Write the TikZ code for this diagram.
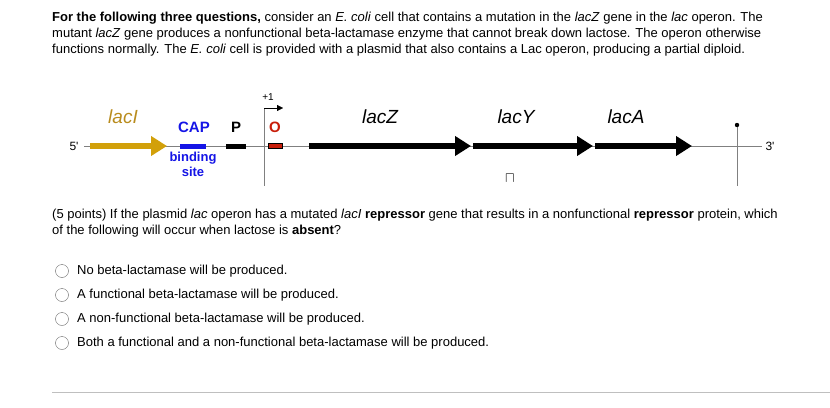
\documentclass[tikz,border=0pt]{standalone}
\usepackage{fontspec}
\setmainfont{Liberation Sans}
\usetikzlibrary{arrows.meta,calc}
\definecolor{gold}{RGB}{210,160,10}
\definecolor{goldtxt}{RGB}{185,140,30}
\definecolor{capblue}{RGB}{20,20,230}
\definecolor{ored}{RGB}{200,30,10}
\begin{document}
\begin{tikzpicture}[x=1pt,y=-1pt,
  txt/.style={anchor=west,inner sep=0,font=\fontsize{13}{15}\selectfont},
  gene/.style={line width=6pt,-{Triangle[length=16pt,width=19pt]}},
  glab/.style={inner sep=0,font=\fontsize{19}{21}\selectfont\itshape},
  radio/.style={circle,draw=gray!80!black,minimum size=13pt,inner sep=0}]
\useasboundingbox (0,0) rectangle (830,407);
\node[txt] (p1) at (52,18) {\textbf{For the following three questions,} consider an \textit{E. coli} cell that contains a mutation in the \textit{lacZ} gene in the \textit{lac} operon. The};
\node[txt] (p2) at (52,34) {mutant \textit{lacZ} gene produces a nonfunctional beta-lactamase enzyme that cannot break down lactose. The operon otherwise};
\node[txt] (p3) at (52,50) {functions normally. The \textit{E. coli} cell is provided with a plasmid that also contains a Lac operon, producing a partial diploid.};
% DNA
\node[inner sep=0,font=\fontsize{12}{14}\selectfont] (five) at (74,146) {5\textquotesingle};
\node[inner sep=0,font=\fontsize{12}{14}\selectfont] (three) at (770,146) {3\textquotesingle};
\draw[gray,line width=0.8pt] (84,146) -- (762,146);
\coordinate (iA) at (90,146); \coordinate (iB) at (167,146);
\draw[gold,line width=5.5pt,-{Triangle[length=16pt,width=19pt]}] (iA) -- (iB);
\node[glab,text=goldtxt] (lacI) at (123,117) {lacI};
\node[inner sep=0,font=\fontsize{15}{17}\selectfont\bfseries,text=capblue] (cap) at (194,127) {CAP};
\fill[capblue] (180,143.5) rectangle (206,148.5);
\node[inner sep=0,font=\fontsize{13}{15}\selectfont\bfseries,text=capblue,align=center] (bs) at (193,164) {binding\\site};
\node[inner sep=0,font=\fontsize{15}{17}\selectfont\bfseries] (P) at (236,127) {P};
\fill[black] (226,143.5) rectangle (246,148.5);
\coordinate (vt) at (264,108); \coordinate (vb) at (264,186);
\draw[gray] (vt) -- (vb);
\coordinate (ar) at (283,108);
\draw[-{Triangle[length=6pt,width=6pt]}] (vt) -- (ar);
\node[inner sep=0,font=\fontsize{10}{11}\selectfont] (plus) at (268,97) {+1};
\node[inner sep=0,font=\fontsize{15}{17}\selectfont\bfseries,text=ored] (O) at (275,127) {O};
\fill[ored,draw=black,line width=0.4pt] (268,143.5) rectangle (282,148.5);
\coordinate (z0) at (309,146); \coordinate (z1) at (471,146);
\coordinate (y1) at (593,146); \coordinate (a1) at (692,146);
\draw[gene] (z0) -- (z1);
\draw[gene] ($(z1)+(2,0)$) -- (y1);
\draw[gene] ($(y1)+(2,0)$) -- (a1);
\node[glab] (lacZ) at (380,117) {lacZ};
\node[glab] (lacY) at (516,117) {lacY};
\node[glab] (lacA) at (626,117) {lacA};
\coordinate (tt) at (737,125); \coordinate (tb) at (737,186);
\draw[gray] (tt) -- (tb);
\fill (tt) circle (2.2pt);
\node[inner sep=0,font=\fontsize{14}{16}\selectfont] (cap2) at (510,178) {$\sqcap$};
% question
\node[txt] (q1) at (52,215) {(5 points) If the plasmid \textit{lac} operon has a mutated \textit{lacI} \textbf{repressor} gene that results in a nonfunctional \textbf{repressor} protein, which};
\node[txt] (q2) at (52,231) {of the following will occur when lactose is \textbf{absent}?};
\foreach \y/\t [count=\i] in {271/No beta-lactamase will be produced.,295/A functional beta-lactamase will be produced.,319/A non-functional beta-lactamase will be produced.,343/Both a functional and a non-functional beta-lactamase will be produced.}{
  \node[radio] (r\i) at (62,\y) {};
  \node[txt] (o\i) at (77,\y) {\t};
}
\draw[gray!50] (52,392) -- (830,392);
\end{tikzpicture}
\end{document}
